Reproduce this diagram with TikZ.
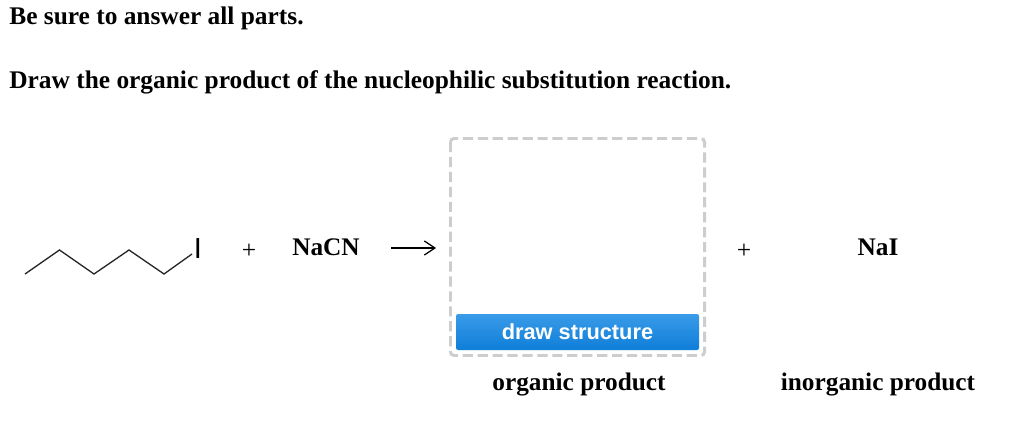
\documentclass[tikz,border=0pt]{standalone}
\usepackage{fontspec}
\setmainfont{Liberation Serif}
\setsansfont{Liberation Sans}
\usetikzlibrary{arrows.meta}
\usetikzlibrary{positioning}
\definecolor{boxgray}{RGB}{205,205,205}
\definecolor{btntop}{RGB}{58,155,232}
\definecolor{btnbottom}{RGB}{14,126,216}
\tikzset{
	heading/.style={anchor=west,inner sep=0pt,font=\fontsize{14.45}{16}\selectfont\bfseries},
	chem/.style={inner sep=0pt,font=\fontsize{14.4}{16}\selectfont\bfseries},
	plus/.style={inner sep=0pt,font=\fontsize{14.5}{16}\selectfont},
	bond/.style={line width=0.75pt,color=black!85}
}
\begin{document}
\begin{tikzpicture}[line cap=butt,line join=miter, x=0.02cm,y=-0.02cm]
	\useasboundingbox (0,0) rectangle (1024,446);
	\fill[white] (0,0) rectangle (1024,446);
	\node[heading] (line1) at (9,18.5) {Be sure to answer all parts.};
	\node[heading] (line2) at (9,82) {Draw the organic product of the nucleophilic substitution reaction.};
	% pentyl iodide
	\coordinate (c1) at (25,274);
	\coordinate (c2) at (59.5,250);
	\coordinate (c3) at (94,274);
	\coordinate (c4) at (129,250);
	\coordinate (c5) at (164,274);
	\node[inner sep=0pt,font=\sffamily\fontsize{16.5}{18}\selectfont] (iodo) at (198,248.5) {I};
	\draw[bond] (c1) -- (c2) -- (c3) -- (c4) -- (c5) -- (192,254);
	\node[plus] (plusa) at (249,251.5) {+};
	\node[chem] (nacn) at (326,247) {NaCN};
	\coordinate (arrowend) at (436,248);
	\coordinate (arrowstart) at (391,248);
	\draw[-{Straight Barb[length=6pt,width=8pt]},line width=0.7pt] (arrowstart) -- (arrowend);
	% answer box
	\draw[boxgray,line width=1.7pt,rounded corners=2pt,dash pattern=on 5.8pt off 2.7pt] (450.5,138.5) rectangle (704.5,355.5);
	\node[draw=none,rounded corners=1.2pt,minimum width=243*0.02cm,minimum height=36*0.02cm,inner sep=0pt,top color=btntop,bottom color=btnbottom,text=white,font=\sffamily\bfseries\fontsize{12.4}{14}\selectfont] (button) at (577.5,332) {\raisebox{0.5pt}{draw structure}};
	\node[chem] (organic) at (579,384.5) {organic product};
	\node[plus] (plusb) at (744,251.5) {+};
	\node[chem] (nai) at (878,247) {NaI};
	\node[chem] (inorganic) at (878,384.5) {inorganic product};
\end{tikzpicture}
\end{document}
